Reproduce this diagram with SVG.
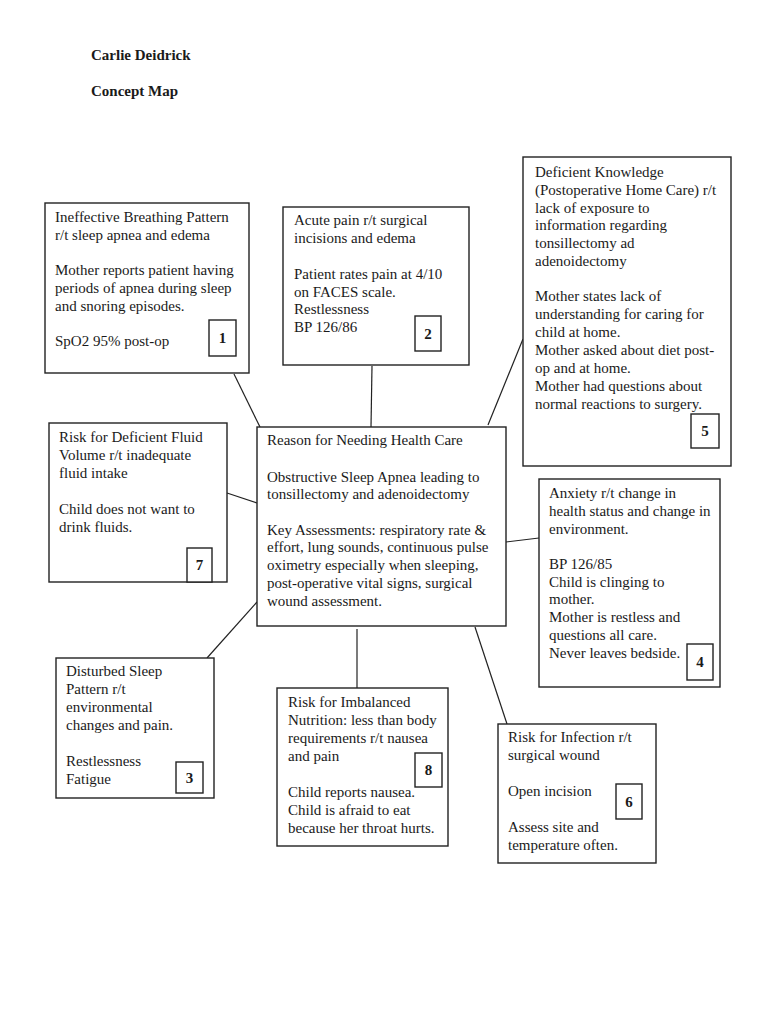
<svg xmlns="http://www.w3.org/2000/svg" width="768" height="1024" viewBox="0 0 768 1024">
<style>
text{font-family:"Liberation Serif","Times New Roman",serif;font-size:15px;fill:#1a1a1a}
.h{font-weight:bold}
.num{font-weight:bold;text-anchor:middle}
.box{fill:#fff;stroke:#222;stroke-width:1.4}
.nb{fill:#fff;stroke:#222;stroke-width:1.4}
.conn line{stroke:#222;stroke-width:1.2}
</style>
<rect width="768" height="1024" fill="#fff"/>
<g id="header">
<text class="h" x="91" y="60">Carlie Deidrick</text>
<text class="h" x="91" y="96">Concept Map</text>
</g>
<g id="connectors" class="conn">
<line x1="234" y1="374" x2="260" y2="427"/>
<line x1="372" y1="366" x2="371" y2="427"/>
<line x1="488" y1="425" x2="523" y2="339"/>
<line x1="227" y1="493" x2="257" y2="503"/>
<line x1="506" y1="542" x2="539" y2="538"/>
<line x1="257" y1="602" x2="207" y2="658"/>
<line x1="357" y1="629" x2="357" y2="688"/>
<line x1="475" y1="627" x2="507" y2="724"/>
</g>
<g id="node1">
<rect class="box" x="45" y="203" width="204" height="170"/>
<text x="55" y="222">Ineffective Breathing Pattern</text>
<text x="55" y="240">r/t sleep apnea and edema</text>
<text x="55" y="275">Mother reports patient having</text>
<text x="55" y="293">periods of apnea during sleep</text>
<text x="55" y="311">and snoring episodes.</text>
<text x="55" y="346">SpO2 95% post-op</text>
<rect class="nb" x="209" y="320" width="27" height="36"/>
<text class="num" x="222.5" y="343">1</text>
</g>
<g id="node2">
<rect class="box" x="283" y="207" width="186" height="158"/>
<text x="294" y="225">Acute pain r/t surgical</text>
<text x="294" y="243">incisions and edema</text>
<text x="294" y="279">Patient rates pain at 4/10</text>
<text x="294" y="297">on FACES scale.</text>
<text x="294" y="314">Restlessness</text>
<text x="294" y="332">BP 126/86</text>
<rect class="nb" x="415" y="316" width="26" height="35"/>
<text class="num" x="428" y="339">2</text>
</g>
<g id="node5">
<rect class="box" x="523" y="157" width="208" height="309"/>
<text x="535" y="177">Deficient Knowledge</text>
<text x="535" y="195">(Postoperative Home Care) r/t</text>
<text x="535" y="213">lack of exposure to</text>
<text x="535" y="230">information regarding</text>
<text x="535" y="248">tonsillectomy ad</text>
<text x="535" y="266">adenoidectomy</text>
<text x="535" y="301">Mother states lack of</text>
<text x="535" y="319">understanding for caring for</text>
<text x="535" y="337">child at home.</text>
<text x="535" y="355">Mother asked about diet post-</text>
<text x="535" y="373">op and at home.</text>
<text x="535" y="391">Mother had questions about</text>
<text x="535" y="409">normal reactions to surgery.</text>
<rect class="nb" x="691" y="414" width="28" height="34"/>
<text class="num" x="705" y="436">5</text>
</g>
<g id="node7">
<rect class="box" x="49" y="423" width="178" height="159"/>
<text x="59" y="442">Risk for Deficient Fluid</text>
<text x="59" y="460">Volume r/t inadequate</text>
<text x="59" y="478">fluid intake</text>
<text x="59" y="514">Child does not want to</text>
<text x="59" y="532">drink fluids.</text>
<rect class="nb" x="187" y="548" width="25" height="34"/>
<text class="num" x="199.5" y="570">7</text>
</g>
<g id="center">
<rect class="box" x="257" y="427" width="249" height="199"/>
<text x="267" y="445">Reason for Needing Health Care</text>
<text x="267" y="482">Obstructive Sleep Apnea leading to</text>
<text x="267" y="499">tonsillectomy and adenoidectomy</text>
<text x="267" y="535">Key Assessments: respiratory rate &amp;</text>
<text x="267" y="552">effort, lung sounds, continuous pulse</text>
<text x="267" y="570">oximetry especially when sleeping,</text>
<text x="267" y="588">post-operative vital signs, surgical</text>
<text x="267" y="606">wound assessment.</text>
</g>
<g id="node4">
<rect class="box" x="539" y="479" width="181" height="208"/>
<text x="549" y="498">Anxiety r/t change in</text>
<text x="549" y="516">health status and change in</text>
<text x="549" y="534">environment.</text>
<text x="549" y="569">BP 126/85</text>
<text x="549" y="587">Child is clinging to</text>
<text x="549" y="604">mother.</text>
<text x="549" y="622">Mother is restless and</text>
<text x="549" y="640">questions all care.</text>
<text x="549" y="658">Never leaves bedside.</text>
<rect class="nb" x="687" y="644" width="26" height="36"/>
<text class="num" x="700" y="667">4</text>
</g>
<g id="node3">
<rect class="box" x="56" y="658" width="158" height="140"/>
<text x="66" y="676">Disturbed Sleep</text>
<text x="66" y="694">Pattern r/t</text>
<text x="66" y="712">environmental</text>
<text x="66" y="730">changes and pain.</text>
<text x="66" y="766">Restlessness</text>
<text x="66" y="784">Fatigue</text>
<rect class="nb" x="176" y="762" width="27" height="31"/>
<text class="num" x="189.5" y="783">3</text>
</g>
<g id="node8">
<rect class="box" x="277" y="688" width="171" height="158"/>
<text x="288" y="707">Risk for Imbalanced</text>
<text x="288" y="725">Nutrition: less than body</text>
<text x="288" y="743">requirements r/t nausea</text>
<text x="288" y="761">and pain</text>
<text x="288" y="797">Child reports nausea.</text>
<text x="288" y="815">Child is afraid to eat</text>
<text x="288" y="833">because her throat hurts.</text>
<rect class="nb" x="415" y="753" width="27" height="34"/>
<text class="num" x="428.5" y="775">8</text>
</g>
<g id="node6">
<rect class="box" x="498" y="724" width="158" height="139"/>
<text x="508" y="742">Risk for Infection r/t</text>
<text x="508" y="760">surgical wound</text>
<text x="508" y="796">Open incision</text>
<text x="508" y="832">Assess site and</text>
<text x="508" y="850">temperature often.</text>
<rect class="nb" x="616" y="784" width="26" height="35"/>
<text class="num" x="629" y="807">6</text>
</g>
</svg>
